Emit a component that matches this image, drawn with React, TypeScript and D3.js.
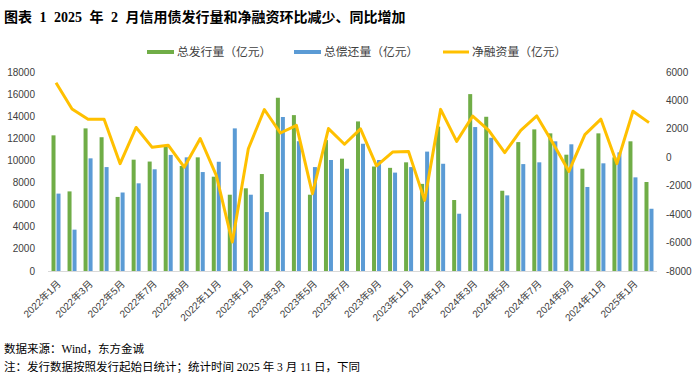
import React from "react";
import * as d3 from "d3";

const categories = [
  "2022年1月","2022年2月","2022年3月","2022年4月","2022年5月","2022年6月","2022年7月","2022年8月","2022年9月","2022年10月","2022年11月","2022年12月",
  "2023年1月","2023年2月","2023年3月","2023年4月","2023年5月","2023年6月","2023年7月","2023年8月","2023年9月","2023年10月","2023年11月","2023年12月",
  "2024年1月","2024年2月","2024年3月","2024年4月","2024年5月","2024年6月","2024年7月","2024年8月","2024年9月","2024年10月","2024年11月","2024年12月",
  "2025年1月","2025年2月",
];

const issuance = [
  12270, 7200, 12900, 12100, 6700, 10070, 9900, 11300, 9500, 10280, 8530, 6900,
  7480, 8770, 15670, 14100, 6900, 11840, 10160, 13530, 9450, 9330, 9830, 7880,
  13060, 6420, 16000, 13950, 7260, 11660, 12810, 12450, 10520, 9250, 12450, 10280,
  11730, 8050,
];

const repayment = [
  7000, 3740, 10190, 9400, 7100, 7930, 9200, 10500, 10280, 8950, 9880, 12900,
  6900, 5330, 13930, 11740, 9400, 10040, 9250, 11510, 10040, 8900, 9400, 10800,
  9700, 5180, 13020, 12050, 6840, 9670, 9830, 11730, 11460, 7600, 9740, 10730,
  8470, 5630,
];

const netFinancing = [
  5250, 3400, 2680, 2680, -450, 2100, 700, 850, -700, 1320, -1270, -5960,
  600, 3360, 1710, 2250, -2560, 2020, 920, 2000, -600, 370, 400, -3030,
  3370, 1120, 2900, 1900, 330, 1900, 2910, 1000, -990, 1600, 2680, -450,
  3240, 2440,
];

const leftTicks = [0, 2000, 4000, 6000, 8000, 10000, 12000, 14000, 16000, 18000];
const rightTicks = [-8000, -6000, -4000, -2000, 0, 2000, 4000, 6000];

const seriesNames = ["总发行量（亿元）", "总偿还量（亿元）", "净融资量（亿元）"];
const title = "图表 1 2025 年 2 月信用债发行量和净融资环比减少、同比增加";
const sourceText = "数据来源：Wind，东方金诚";
const noteText = "注：发行数据按照发行起始日统计；统计时间 2025 年 3 月 11 日，下同";

const GREEN = "#70AD47";
const BLUE = "#5B9BD5";
const YELLOW = "#FFC000";

export default function App() {
  const W = 700, H = 383;
  const left = 48, right = 657, top = 72, bottom = 271;

  const x = d3.scaleBand<string>().domain(categories).range([left, right]).padding(0);
  const yL = d3.scaleLinear().domain([0, 18000]).range([bottom, top]);
  const yR = d3.scaleLinear().domain([-8000, 6000]).range([bottom, top]);

  const bw = 4;
  const line = d3
    .line<number>()
    .x((_, i) => (x(categories[i]) as number) + x.bandwidth() / 2)
    .y((d) => yR(d));

  const axisFont = "'Liberation Sans', Arial, 'Noto Sans CJK SC', sans-serif";
  const serifFont = "'Liberation Serif', 'Times New Roman', 'Noto Sans CJK SC', serif";

  return (
    <svg width={W} height={H} style={{ position: "absolute", left: 0, top: 0, background: "#fff" }}>
      <rect x={0} y={0} width={W} height={H} fill="#fff" />
      <text x={4} y={22} fontFamily={serifFont} fontWeight="bold" fontSize={14} wordSpacing={4} fill="#000">
        {title}
      </text>

      {/* legend */}
      <g fontFamily={axisFont} fontSize={11.8} fill="#404040">
        <rect x={147} y={50} width={27} height={4} fill={GREEN} />
        <text x={177} y={56}>{seriesNames[0]}</text>
        <rect x={294} y={50} width={27} height={4} fill={BLUE} />
        <text x={324} y={56}>{seriesNames[1]}</text>
        <line x1={443} x2={469} y1={52} y2={52} stroke={YELLOW} strokeWidth={3} />
        <text x={472} y={56}>{seriesNames[2]}</text>
      </g>

      {/* bars */}
      {categories.map((c, i) => {
        const cx = (x(c) as number) + x.bandwidth() / 2;
        return (
          <g key={c}>
            <rect x={cx - bw - 0.5} y={yL(issuance[i])} width={bw} height={yL(0) - yL(issuance[i])} fill={GREEN} />
            <rect x={cx + 0.5} y={yL(repayment[i])} width={bw} height={yL(0) - yL(repayment[i])} fill={BLUE} />
          </g>
        );
      })}

      {/* axis line */}
      <line x1={left} x2={right} y1={bottom + 0.5} y2={bottom + 0.5} stroke="#d9d9d9" strokeWidth={1} />

      {/* net financing line */}
      <path d={line(netFinancing) || ""} fill="none" stroke={YELLOW} strokeWidth={3} strokeLinejoin="round" />

      {/* axis labels */}
      <g fontFamily={axisFont} fontSize={10} fill="#404040">
        {leftTicks.map((t) => (
          <text key={t} x={35} y={yL(t)} textAnchor="end" dominantBaseline="central">
            {t}
          </text>
        ))}
        {rightTicks.map((t) => (
          <text key={t} x={666} y={yR(t)} textAnchor="start" dominantBaseline="central">
            {t}
          </text>
        ))}
      </g>

      {/* x labels */}
      <g fontFamily={axisFont} fontSize={10} fill="#404040">
        {categories.map((c, i) =>
          i % 2 === 0 ? (
            <text
              key={c}
              transform={`translate(${(x(c) as number) + x.bandwidth() / 2 + 3},${bottom + 11}) rotate(-45)`}
              textAnchor="end"
              dominantBaseline="central"
            >
              {c}
            </text>
          ) : null
        )}
      </g>

      {/* footer */}
      <g fontFamily={serifFont} fontSize={11.5} fill="#000">
        <text x={4} y={353}>{sourceText}</text>
        <text x={4} y={371}>{noteText}</text>
      </g>
    </svg>
  );
}
